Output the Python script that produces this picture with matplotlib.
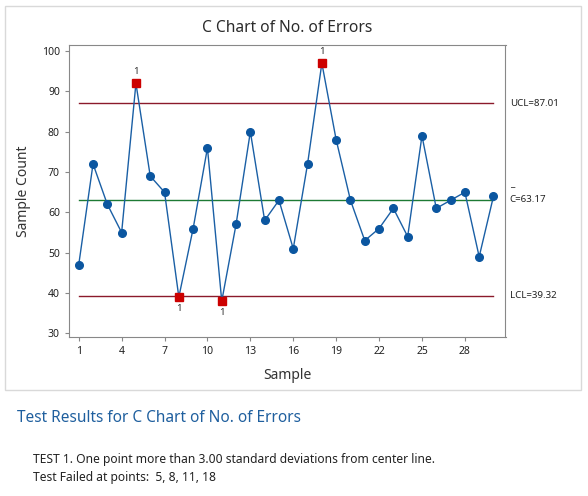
import matplotlib
matplotlib.use("Agg")
import matplotlib.pyplot as plt
from matplotlib.patches import Rectangle

plt.rcParams['font.family'] = ['Noto Sans', 'DejaVu Sans']

# data
samples = list(range(1, 31))
errors = [47, 72, 62, 55, 92, 69, 65, 39, 56, 76, 38, 57, 80, 58, 63,
          51, 72, 97, 78, 63, 53, 56, 61, 54, 79, 61, 63, 65, 49, 64]
center = 63.17
ucl = 87.01
lcl = 39.32
failed = [5, 8, 11, 18]
xticks = [1, 4, 7, 10, 13, 16, 19, 22, 25, 28]
yticks = [30, 40, 50, 60, 70, 80, 90, 100]

W, H = 588, 496
fig = plt.figure(figsize=(W / 100, H / 100), dpi=100)
fig.patch.set_facecolor('white')

# light frame around the graph panel
fig.add_artist(Rectangle((5 / W, 1 - 390 / H), 576 / W, 384 / H, transform=fig.transFigure,
                         fill=False, edgecolor='#d9d9d9', linewidth=1))

ax = fig.add_axes([69 / W, 1 - 337 / H, 436.5 / W, 292 / H])

blue = '#0b56a0'
red = '#cc0000'
limit_col = '#8b1a2b'
center_col = '#1d7a34'

ax.plot([1, 30], [ucl, ucl], color=limit_col, lw=1, zorder=1)
ax.plot([1, 30], [lcl, lcl], color=limit_col, lw=1, zorder=1)
ax.plot([1, 30], [center, center], color=center_col, lw=1, zorder=1)

ax.plot(samples, errors, color='#1a5fa5', lw=1, zorder=2)
ok_x = [s for s in samples if s not in failed]
ok_y = [errors[s - 1] for s in ok_x]
ax.plot(ok_x, ok_y, 'o', color=blue, ms=5.5, zorder=3)
bad_y = [errors[s - 1] for s in failed]
ax.plot(failed, bad_y, 's', color=red, ms=5.5, zorder=3)

for s, v in zip(failed, bad_y):
    if v > center:
        ax.annotate('1', (s, v), xytext=(0, 5), textcoords='offset points',
                    ha='center', va='bottom', fontsize=7, color='#333333')
    else:
        ax.annotate('1', (s, v), xytext=(0, -5), textcoords='offset points',
                    ha='center', va='top', fontsize=7, color='#333333')

ax.set_xlim(0.32, 30.84)
ax.set_ylim(29.1, 101.5)
ax.set_xticks(xticks)
ax.set_yticks(yticks)
ax.tick_params(labelsize=7.5, colors='#222222', length=3, color='#888888')
for sp in ax.spines.values():
    sp.set_color('#888888')

ax.set_xlabel('Sample', fontsize=10, color='#333333', labelpad=8)
ax.set_ylabel('Sample Count', fontsize=10, color='#333333', labelpad=8)
ax.set_title('C Chart of No. of Errors', fontsize=11.2, color='#2b2b2b', pad=9)

# control limit labels to the right of the plot
tr = ax.get_yaxis_transform()
ax.text(1.01, ucl, 'UCL=87.01', transform=tr, fontsize=7, va='center', ha='left', color='#222222')
ax.text(1.01, center, 'C=63.17', transform=tr, fontsize=7, va='center', ha='left', color='#222222')
ax.text(1.01, center + 2.9, '_', transform=tr, fontsize=7, va='bottom', ha='left', color='#222222')
ax.text(1.01, lcl, 'LCL=39.32', transform=tr, fontsize=7, va='center', ha='left', color='#222222')

# test results below the graph
fig.text(17 / W, 1 - 418 / H, 'Test Results for C Chart of No. of Errors', fontsize=11.1,
         color='#1f5f9e', va='center', ha='left')
fig.text(33 / W, 1 - 460 / H, 'TEST 1. One point more than 3.00 standard deviations from center line.',
         fontsize=8.7, color='#222222', va='center', ha='left')
fig.text(33 / W, 1 - 477 / H, 'Test Failed at points:  ' + ', '.join(str(p) for p in failed),
         fontsize=8.7, color='#222222', va='center', ha='left')

fig.savefig('out.png', dpi=100)
